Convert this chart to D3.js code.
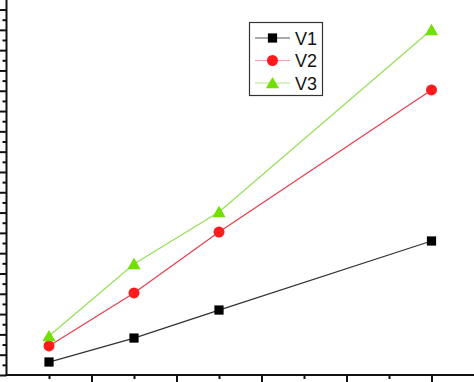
<!DOCTYPE html>
<html><head><meta charset="utf-8">
<script src="https://cdn.jsdelivr.net/npm/d3@7"></script>
<style>html,body{margin:0;padding:0;background:#fff;overflow:hidden}</style>
</head><body>
<svg id="c" width="474" height="382"></svg>
<script>
const xValues = [1, 3, 5, 10];
const v1 = [0.64, 1.82, 3.2, 6.6];
const v2 = [1.43, 4.04, 7.04, 14.04];
const v3 = [1.92, 5.47, 8.03, 17.0];
const seriesNames = ["V1", "V2", "V3"];
const xMajorTicks = [2, 4, 6, 8, 10];
const xMinorTicks = [1, 3, 5, 7, 9];
const yMajorTicks = d3.range(0, 19, 1);
const yMinorTicks = d3.range(0.5, 18.5, 1);

const svg = d3.select("#c");
const x = d3.scaleLinear().domain([0, 11]).range([6.5, 474]);
const y = d3.scaleLinear().domain([0, 18.47]).range([375, 0]);

const styles = [
  {line: "#333", fill: "#000", shape: d3.symbolSquare, size: 85, legLine: "#555"},
  {line: "#e8424f", fill: "#ff1b1b", shape: d3.symbolCircle, size: 95, legLine: "#f0a0a8"},
  {line: "#99e05a", fill: "#6fe000", shape: d3.symbolTriangle, size: 75, legLine: "#b4ea88"}
];
const data = [v1, v2, v3];

// axes
function styleAxis(g){ g.select(".domain").remove(); g.selectAll("line").attr("stroke","#111").attr("stroke-width",2); g.selectAll("text").remove(); }
svg.append("g").attr("transform","translate(0,375)")
  .call(d3.axisBottom(x).tickValues(xMajorTicks).tickSize(7).tickFormat("")).call(styleAxis);
svg.append("g").attr("transform","translate(0,375)")
  .call(d3.axisBottom(x).tickValues(xMinorTicks).tickSize(4).tickFormat("")).call(styleAxis);
svg.append("g").attr("transform","translate(6.5,0)")
  .call(d3.axisLeft(y).tickValues(yMajorTicks).tickSize(7).tickFormat("")).call(styleAxis);
svg.append("g").attr("transform","translate(6.5,0)")
  .call(d3.axisLeft(y).tickValues(yMinorTicks).tickSize(4).tickFormat("")).call(styleAxis);
svg.append("line").attr("x1",6.5).attr("x2",6.5).attr("y1",0).attr("y2",376).attr("stroke","#111").attr("stroke-width",2);
svg.append("line").attr("x1",5.5).attr("x2",474).attr("y1",375).attr("y2",375).attr("stroke","#111").attr("stroke-width",2);

const line = d3.line().x((d,i)=>x(xValues[i])).y(d=>y(d));
data.forEach((vals, k) => {
  const s = styles[k];
  svg.append("path").attr("d", line(vals)).attr("fill","none").attr("stroke",s.line).attr("stroke-width",1.3);
  svg.selectAll(null).data(vals).enter().append("path")
    .attr("d", d3.symbol().type(s.shape).size(s.size))
    .attr("transform",(d,i)=>`translate(${x(xValues[i])},${y(d) + (k===2?1.5:0)})`)
    .attr("fill", s.fill);
});

// legend
const leg = svg.append("g");
leg.append("rect").attr("x",249.5).attr("y",22.5).attr("width",73).attr("height",73)
  .attr("fill","#fff").attr("stroke","#333").attr("stroke-width",1.2);
seriesNames.forEach((n,k)=>{
  const s = styles[k];
  const cy = 38 + k*22.5;
  leg.append("line").attr("x1",255).attr("x2",290).attr("y1",cy).attr("y2",cy).attr("stroke",s.legLine).attr("stroke-width",1.2);
  leg.append("path").attr("d", d3.symbol().type(s.shape).size(s.size)).attr("transform",`translate(272.5,${cy + (k===2?1.5:0)})`).attr("fill",s.fill);
  leg.append("text").attr("x",295).attr("y",cy+6.5).attr("font-family","Liberation Sans, Arial, sans-serif").attr("font-size",18).attr("fill","#111").text(n);
});
</script>
</body></html>
